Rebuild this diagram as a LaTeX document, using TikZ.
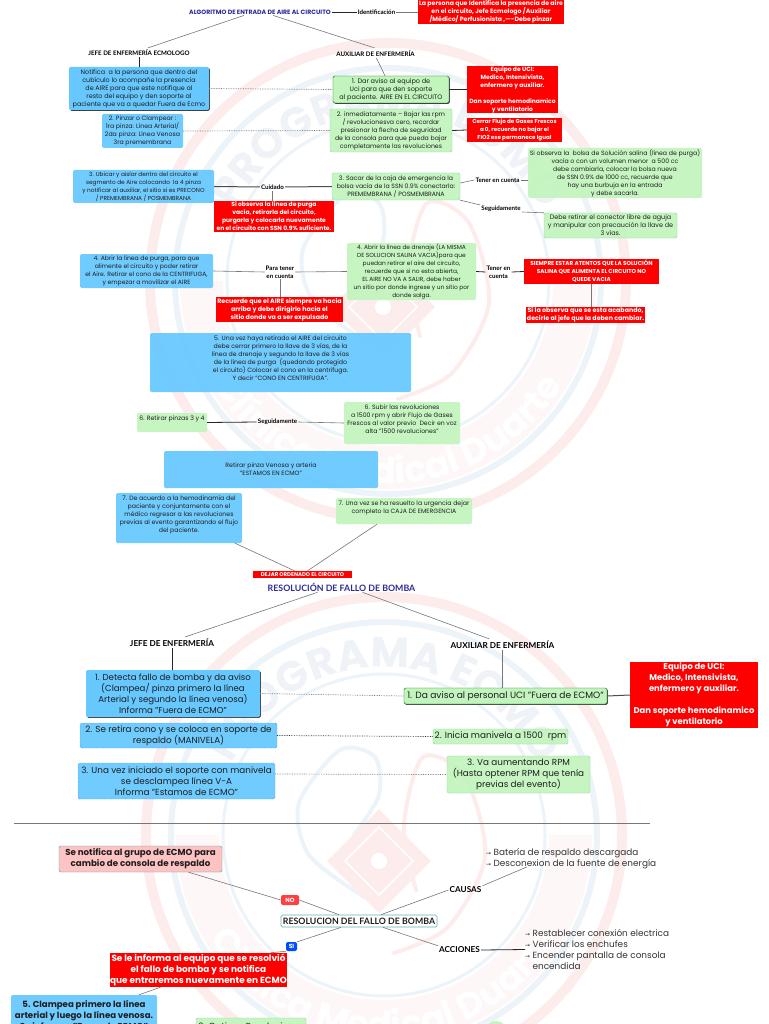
\documentclass[tikz,border=0pt]{standalone}
\usepackage{fontspec}
\setmainfont{Poppins}
\newfontfamily\labfont{Lato}
\newfontfamily\symfont{DejaVu Sans}
\usetikzlibrary{shadows,decorations.text}
\definecolor{blueF}{HTML}{66C8FF}
\definecolor{greenF}{HTML}{C2F5BE}
\definecolor{greenE}{HTML}{8FD8A0}
\definecolor{redF}{HTML}{FF0000}
\definecolor{navy}{HTML}{2A2A9A}
\definecolor{wmred}{HTML}{FDECEC}
\definecolor{wmblue}{HTML}{EDF4F9}
\definecolor{wmtext}{HTML}{EFF3F8}
\definecolor{linegrey}{HTML}{777777}
\definecolor{ink}{HTML}{1E1E1E}
\newcommand{\fsz}[2]{\fontsize{#1}{#2}\selectfont}
\newcommand{\arr}{{\symfont\fontsize{6}{11}\selectfont →}}
\newcommand{\bx}[7]{%
  \pgfmathsetmacro\bxw{#5-#3}\pgfmathsetmacro\bxh{#6-#4}%
  \pgfmathsetmacro\bxx{(#3+#5)/2}\pgfmathsetmacro\bxy{(#4+#6)/2}%
  \node[#2,minimum width=\bxw pt,minimum height=\bxh pt] (#1) at (\bxx,\bxy) {#7};}
\newcommand{\wmark}[2]{%
 \begin{scope}[shift={(#1,#2)}]
  \draw[wmred,line width=10pt] (0,0) circle[radius=238pt];
  \draw[wmblue,line width=6pt] (0,0) circle[radius=213pt];
  \draw[wmblue,line width=3pt] (0,0) circle[radius=161pt];
  \fill[wmred,opacity=.4] (-208,0) arc[start angle=180,end angle=360,radius=208pt] -- (165,0) arc[start angle=360,end angle=180,radius=165pt] -- cycle;
  \path[postaction={decorate},decoration={text along path,text align={center},
     text={|\color{wmtext}\fsz{42}{42}\bfseries|PROGRAMA ECMO}}]
     (-168,0) arc[start angle=180,end angle=0,radius=168pt];
  \path[postaction={decorate},decoration={text along path,text align={center},
     text={|\color{white}\fsz{36}{36}\bfseries|Clínica Medical Duarte}}]
     (-203,0) arc[start angle=180,end angle=360,radius=203pt];
  \draw[wmblue,line width=4pt,line cap=round] plot[smooth] coordinates {(-20,62) (-75,20) (-85,-32) (-44,-85) (-9,-78) (-5,-40) (-30,0)};
  \draw[wmred,line width=4pt,line cap=round] plot[smooth] coordinates {(32,55) (20,-10) (39,-78) (81,-58) (101,22) (64,92) (10,118)};
  \fill[wmred] (-5,-26) -- (47,26) -- (-5,78) -- (-57,26) -- cycle;
  \draw[white,line width=1.5pt] (-5,-8) -- (29,26) -- (-5,60) -- (-39,26) -- cycle;
  \fill[white] (-5,26) circle[radius=8pt];
 \end{scope}}
\tikzset{
  x=1pt,y=-1pt,
  blubox/.style={fill=blueF,fill opacity=.93,text opacity=1,rounded corners=1.5pt,inner sep=0pt,align=center,text=ink,font=\fsz{6.2}{8}},
  grnbox/.style={fill=greenF,fill opacity=.93,text opacity=1,draw=greenE,line width=.4pt,rounded corners=1.5pt,inner sep=0pt,align=center,text=ink,font=\fsz{6.2}{8}},
  redbox/.style={fill=redF,inner sep=0pt,align=center,text=white,font=\fsz{6}{8}\bfseries},
  shadowed/.style={fill opacity=1,drop shadow={shadow xshift=.8pt,shadow yshift=-.8pt,fill=black!75,opacity=1}},
  big/.style={font=\fsz{8.8}{11}},
  bigb/.style={font=\fsz{8.7}{11}\bfseries},
  dashedbox/.style={draw=blue!55!blueF,densely dotted,line width=.4pt},
  lab/.style={inner sep=1pt,align=center,text=black,font=\labfont\fsz{6.2}{8}\bfseries},
  biglab/.style={inner sep=1pt,align=center,text=black,font=\labfont\fsz{8.2}{10}\bfseries},
  lnk/.style={draw=linegrey,line width=.6pt},
  blk/.style={draw=black!85,line width=.8pt},
  dots/.style={draw=linegrey,densely dotted,line width=.7pt},
  dotsb/.style={draw=black!80,densely dotted,line width=.7pt},
  list/.style={inner sep=0pt,anchor=west,align=left,text=black!80,font=\fsz{8.9}{11}},
}
\begin{document}
\begin{tikzpicture}
\useasboundingbox (0,0) rectangle (768,1024);
\clip (0,0) rectangle (768,1024);
\fill[white] (0,0) rectangle (768,1024);
\wmark{388}{281}
\wmark{384}{835}

% --- part 1
\node[inner sep=1pt,text=navy,font=\fsz{6.2}{7}\bfseries] (title) at (260,12) {ALGORITMO DE ENTRADA DE AIRE AL CIRCUITO};
\node[lab] (ident) at (376.5,12) {Identificación};
\bx{rtop}{redbox,font=\fsz{6.2}{8}\bfseries}{418}{0}{564}{24.5}{La persona que Identifica la presencia de aire\\en el circuito, Jefe Ecmologo /Auxiliar\\/Médico/ Perfusionista ,----Debe pinzar}
\node[lab] (jefe) at (139,53) {JEFE DE ENFERMERÍA ECMOLOGO};
\node[lab] (aux) at (375.5,54) {AUXILIAR DE ENFERMERÍA};
\bx{b1}{blubox,shadowed,font=\fsz{6.4}{8}}{69}{67}{209}{110}{Notifica\ \ a la persona que dentro del\\cubículo lo acompañe la presencia\\de AIRE para que este notifique al\\resto del equipo y den soporte al\\paciente que va a quedar Fuera de Ecmo}
\bx{g1}{grnbox,shadowed,draw=green!45!black,font=\fsz{6.5}{8}}{333}{76}{449}{103}{1. Dar aviso al equipo de\\Uci para que den soporte\\al paciente. AIRE EN EL CIRCUITO}
\bx{r1}{redbox}{467}{66}{558}{113}{Equipo de UCI:\\Medico, Intensivista,\\enfermero y auxiliar.\\ ~\\Dan soporte hemodinamico\\y ventilatorio}
\bx{b2}{blubox}{102}{114}{183}{148}{2. Pinzar o Clampear :\\1ra pinza: Línea Arterial/\\2da pinza: Línea Venosa\\3ra premembrana}
\bx{g2}{grnbox}{330}{109}{452}{152}{2. inmediatamente – Bajar las rpm\\/ revolucionesva cero, recordar\\presionar la flecha de seguridad\\de la consola para que pueda bajar\\completamente las revoluciones}
\bx{r2}{redbox,font=\fsz{5.6}{8}\bfseries}{467}{118}{562}{142}{Cerrar Flujo de Gases Frescos\\a 0, recuerde no bajar el\\FIO2 ese permanece Igual}
\bx{g3r}{grnbox,draw=none}{528}{148}{702}{198}{Si observa la\ \ bolsa de Solución salina (línea de purga)\\vacía o con un volumen menor\ \ a 500 cc\\debe cambiarla, colocar la bolsa nueva\\de SSN 0.9\% de 1000 cc, recuerde que\\hay una burbuja en la entrada\\y debe sacarla.}
\bx{b3}{blubox,font=\fsz{5.8}{8}}{73}{170}{214}{203}{3. Ubicar y aislar dentro del circuito el\\segmento de Aire colocando\ \ la 4 pinza\\y notificar al auxiliar, el sitio si es PRECONO\\/ PREMEMBRANA / POSMEMBRANA}
\node[lab] (cuid) at (272.5,187) {Cuidado};
\bx{g3}{grnbox}{332}{173}{460}{200}{3. Sacar de la caja de emergencia la\\bolsa vacía de la SSN 0.9\% conectarla:\\PREMEMBRANA / POSMEMBRANA}
\bx{r3}{redbox}{214}{201}{334}{232}{Si observa la línea de purga\\vacía, retirarla del circuito,\\purgarla y colocarla nuevamente\\en el circuito con SSN 0.9\% suficiente.}
\node[lab] (tc1) at (497.5,180) {Tener en cuenta};
\node[lab] (seg1) at (501,209) {Seguidamente};
\bx{g3b}{grnbox,font=\fsz{6.4}{8}}{544}{213}{677}{238}{Debe retirar el conector libre de aguja\\y manipular con precaución la llave de\\3 vías.}
\bx{b4}{blubox,font=\fsz{6.1}{8}}{80}{254}{213}{288}{4. Abrir la línea de purga, para que\\alimente el circuito y poder retirar\\el Aire. Retirar el cono de la CENTRIFUGA,\\y empezar a movilizar el AIRE}
\node[lab] (pt) at (280,272) {Para tener\\en cuenta};
\bx{g4}{grnbox,draw=none,font=\fsz{5.9}{8}}{347}{243}{476}{300}{4. Abrir la línea de drenaje (LA MISMA\\DE SOLUCION SALINA VACIA)para que\\puedan retirar el aire del circuito,\\recuerde que si no esta abierta,\\EL AIRE NO VA A SALIR, debe haber\\un sitio por donde ingrese y un sitio por\\donde salga.}
\bx{r4}{redbox,font=\fsz{6.3}{8}\bfseries}{216}{297}{343}{322}{Recuerde que el AIRE siempre va hacia\\arriba y debe dirigirlo hacia el\\sitio donde va a ser expulsado}
\node[lab] (tc2) at (498.5,272) {Tener en\\cuenta};
\bx{r5}{redbox,font=\fsz{5.7}{8}\bfseries}{524}{259}{659}{284}{SIEMPRE ESTAR ATENTOS QUE LA SOLUCIÓN\\SALINA QUE ALIMENTA EL CIRCUITO NO\\QUEDE VACIA}
\bx{r6}{redbox,font=\fsz{6.3}{8}\bfseries}{526}{307}{645}{323}{Si la observa que se esta acabando,\\decirle al jefe que la deben cambiar.}
\bx{b5}{blubox}{150}{333}{411}{392}{5. Una vez haya retirado el AIRE del circuito\\debe cerrar primero la llave de 3 vías, de la\\línea de drenaje y segundo la llave de 3 vías\\de la línea de purga\ \ (quedando protegido\\el circuito) Colocar el cono en la centrifuga.\\Y decir "CONO EN CENTRIFUGA".\\ ~}
\bx{g5}{grnbox,draw=none}{137}{413}{207}{432}{6. Retirar pinzas 3 y 4\\ ~}
\node[lab] (seg2) at (277.5,422) {Seguidamente};
\bx{g6}{grnbox,draw=none}{344}{402}{460}{444}{6. Subir las revoluciones\\a 1500 rpm y abrir Flujo de Gases\\Frescos al valor previo\ \ Decir en voz\\alta "1500 revoluciones"\\ ~}
\bx{b6}{blubox}{164}{451}{378}{488}{Retirar pinza Venosa y arteria\\"ESTAMOS EN ECMO"}
\bx{b7}{blubox}{116}{493}{242}{543}{7. De acuerdo a la hemodinamia del\\paciente y conjuntamente con el\\médico regresar a las revoluciones\\previas al evento garantizando el flujo\\del paciente.\\ ~}
\bx{g7}{grnbox,draw=none}{336}{498}{472}{524}{7. Una vez se ha resuelto la urgencia dejar\\completo la CAJA DE EMERGENCIA\\ ~}
\bx{rd}{redbox,font=\fsz{5.4}{7}\bfseries}{253}{571}{352}{578}{DEJAR ORDENADO EL CIRCUITO}

\draw[blk] (title.east) -- (ident.west);
\draw[lnk] (ident.east) -- (rtop.west |- ident);
\draw[lnk] ([xshift=-16pt]title.south) -- ([xshift=9pt,yshift=1pt]jefe.north);
\draw[lnk] ([xshift=13pt]title.south) -- ([xshift=-1pt,yshift=2pt]aux.north);
\draw[blk] (jefe.south) -- (b1.north);
\draw[lnk] ([xshift=1pt]aux.south) -- ([xshift=-6pt]g1.north);
\draw[dots] (b1.east) -- (g1.west);
\draw[blk] (g1.east) -- (r1.west);
\draw[dots] (b2.east) -- (g2.west);
\draw[blk] (g2.east) -- (r2.west);
\draw[blk,line width=1pt,draw=black!70] (b3.east) -- (cuid.west);
\draw[blk,line width=1pt,draw=black!70] (cuid.east) -- (g3.west);
\draw[lnk] (cuid.south) -- (r3.north -| cuid);
\draw[lnk] (g3.east |- tc1.west) ++(0,3) -- (tc1.west);
\draw[lnk] (tc1.east) -- (g3r.west |- tc1);
\draw[lnk] (g3.south east) -- (seg1.north west);
\draw[lnk] ([yshift=-3pt]seg1.east) -- (g3b.north west);
\draw[lnk] (b4.east) -- (pt.west);
\draw[lnk] (pt.east) -- (g4.west);
\draw[lnk] (pt.south) -- (r4.north -| pt);
\draw[blk] (g4.east) -- (tc2.west);
\draw[blk] (tc2.east) -- (r5.west);
\draw[lnk] (r5.south) -- (r6.north -| r5);
\draw[blk] (g5.east) -- (seg2.west);
\draw[lnk] (seg2.east) -- (g6.west);
\draw[lnk] ([xshift=56pt]b7.south) -- ([xshift=-8pt]rd.north);
\draw[lnk] ([xshift=-27pt]g7.south) -- ([xshift=5pt]rd.north);

% --- part 2
\node[inner sep=1pt,text=navy,font=\labfont\fsz{8.8}{10}\bfseries] (res) at (341.5,587) {RESOLUCIÓN DE FALLO DE BOMBA};
\node[biglab] (jefe2) at (172,643) {JEFE DE ENFERMERÍA};
\node[biglab] (aux2) at (502.5,645) {AUXILIAR DE ENFERMERÍA};
\bx{B1}{blubox,shadowed,font=\fsz{8.6}{11}}{86}{670}{260}{717}{1. Detecta fallo de bomba y da aviso\\(Clampea/ pinza primero la línea\\Arterial y segundo la línea venosa)\\Informa "Fuera de ECMO"}
\bx{G1}{grnbox,shadowed,font=\fsz{9.1}{11},draw=green!45!black}{404}{688}{607}{704}{1. Da aviso al personal UCI "Fuera de ECMO"}
\bx{R1}{redbox,font=\fsz{8.4}{11}\bfseries}{630}{662}{758}{728}{Equipo de UCI:\\Medico, Intensivista,\\enfermero y auxiliar.\\ ~\\Dan soporte hemodinamico\\y ventilatorio}
\bx{B2}{blubox,big,dashedbox}{80}{723}{277}{748}{2. Se retira cono y se coloca en soporte de\\respaldo (MANIVELA)}
\bx{G2}{grnbox,font=\fsz{8.9}{11}}{433}{729}{568}{744}{2. Inicia manivela a 1500\ \ rpm}
\bx{B3}{blubox,big,dashedbox}{78}{763}{275}{799}{3. Una vez iniciado el soporte con manivela\\se desclampea línea V-A\\Informa "Estamos de ECMO"}
\bx{G3}{grnbox,big}{447}{756}{590}{793}{3. Va aumentando RPM\\(Hasta optener RPM que tenía\\previas del evento)}
\draw[lnk] ([xshift=-24pt]res.south) -- ([xshift=13pt,yshift=1pt]jefe2.north);
\draw[lnk] ([xshift=21pt]res.south) -- ([xshift=-13pt,yshift=1pt]aux2.north);
\draw[blk] (jefe2.south) -- (B1.north -| jefe2);
\draw[lnk,line width=1pt] (aux2.south) -- (G1.north -| aux2);
\draw[dots] (B1.east) -- (G1.west);
\draw[blk,line width=1pt,draw=black!70] (G1.east) -- (R1.west);
\draw[dotsb] (B2.east) -- (G2.west);
\draw[dots] ([yshift=7pt]B3.east) -- (G3.west);

% --- part 3
\coordinate (hl) at (14,823);
\coordinate (hr) at (650,823);
\draw[draw=linegrey,line width=.8pt] (hl) -- (hr);
\bx{P}{grnbox,fill=red!25,draw=teal!70,bigb}{59}{846}{222}{872}{Se notifica al grupo de ECMO para\\cambio de consola de respaldo}
\bx{C}{grnbox,fill=white,draw=teal!60,line width=.7pt,font=\labfont\fsz{8.8}{10}\bfseries}{281}{915}{437}{927}{RESOLUCION DEL FALLO DE BOMBA}
\bx{NO}{redbox,fill=red!75,rounded corners=2pt,font=\fsz{6}{7}\bfseries}{281}{895}{299}{905}{NO}
\bx{SI}{redbox,fill=blue!70!cyan,rounded corners=2pt,font=\fsz{6}{7}\bfseries}{286}{942}{297}{951}{SI}
\bx{R}{redbox,font=\fsz{8.9}{11}\bfseries}{110}{953}{287}{987}{Se le informa al equipo que se resolvió\\el fallo de bomba y se notifica\\que entraremos nuevamente en ECMO}
\bx{B5}{blubox,font=\fsz{8.6}{11}\bfseries}{11}{995}{157}{1035}{5. Clampea primero la línea\\arterial y luego la línea venosa.\\Se informa: "Fuera de ECMO"}
\bx{G6}{grnbox,big}{196}{1018}{306}{1036}{6. Optiene Revoluciones}
\node[fill=greenF,circle,minimum size=22pt,inner sep=0pt] (Gc) at (496,1032) {};
\node[biglab] (caus) at (465.5,890) {CAUSAS};
\node[biglab] (acc) at (459.5,950) {ACCIONES};
\node[list] (l1) at (486,858.5) {\arr\ Batería de respaldo descargada\\\arr\ Desconexion de la fuente de energía};
\node[list] (l2) at (525,949.5) {\arr\ Restablecer conexión electrica\\\arr\ Verificar los enchufes\\\arr\ Encender pantalla de consola\\\phantom{\arr\ }encendida};
\draw[lnk] ([xshift=48pt]P.south) -- (NO.west);
\draw[lnk] (NO.east) -- ([xshift=-20pt]C.north);
\draw[lnk] ([xshift=22pt]C.north) -- (caus.west);
\draw[lnk] (caus.north east) -- ([xshift=41pt,yshift=2pt]l1.south west);
\draw[lnk] ([xshift=-18pt]C.south) -- (SI.north east);
\draw[lnk] (SI.south west) -- ([xshift=72pt]R.north);
\draw[lnk] ([xshift=24pt]C.south) -- (acc.north west);
\draw[blk] (acc.east) -- (l2.west);
\draw[lnk] ([xshift=-38pt]R.south) -- ([xshift=55pt]B5.north);
\end{tikzpicture}
\end{document}
